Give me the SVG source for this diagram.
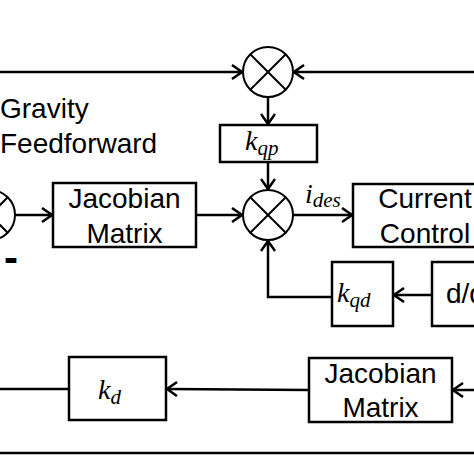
<svg xmlns="http://www.w3.org/2000/svg" width="474" height="474" viewBox="0 0 474 474">
<style>
.box{fill:#fff;stroke:#000;stroke-width:2.5}
.sum{fill:#fff;stroke:#000;stroke-width:2}
.x{stroke:#000;stroke-width:2}
.w{stroke:#000;stroke-width:2.5;fill:none}
.t{font-family:"Liberation Sans",Arial,sans-serif;font-size:28px;fill:#000}
.m{font-family:"Liberation Serif","Times New Roman",serif;font-style:italic;font-size:28px;fill:#000}
.s{font-size:21px}
</style>
<defs>
<marker id="ah" markerUnits="userSpaceOnUse" markerWidth="14" markerHeight="16" viewBox="0 0 14 16" refX="12" refY="8" orient="auto">
<path d="M2,1 L12,8 L2,15" fill="none" stroke="#000" stroke-width="2.5"/>
</marker>
</defs>
<rect width="474" height="474" fill="#fff"/>
<g id="connectors">
<line class="w" x1="0" y1="72" x2="242" y2="72" marker-end="url(#ah)"/>
<line class="w" x1="474" y1="72" x2="294" y2="72" marker-end="url(#ah)"/>
<line class="w" x1="268" y1="97" x2="268" y2="124" marker-end="url(#ah)"/>
<line class="w" x1="268" y1="162" x2="268" y2="189" marker-end="url(#ah)"/>
<line class="w" x1="15" y1="215" x2="52" y2="215" marker-end="url(#ah)"/>
<line class="w" x1="196" y1="215" x2="242" y2="215" marker-end="url(#ah)"/>
<line class="w" x1="293" y1="215" x2="352" y2="215" marker-end="url(#ah)"/>
<line class="w" x1="432" y1="295" x2="394" y2="295" marker-end="url(#ah)"/>
<polyline class="w" points="332,297 268,297 268,241" marker-end="url(#ah)"/>
<line class="w" x1="474" y1="390" x2="453" y2="390" marker-end="url(#ah)"/>
<line class="w" x1="309" y1="390" x2="167" y2="389" marker-end="url(#ah)"/>
<line class="w" x1="69" y1="389" x2="0" y2="389"/>
<line class="w" x1="0" y1="453" x2="474" y2="453"/>
</g>
<g id="gravity-label">
<text class="t" x="0" y="118" font-size="27">Gravity</text>
<text class="t" x="0" y="153" font-size="27">Feedforward</text>
</g>
<g id="sum-left">
<circle class="sum" cx="-10" cy="215" r="25"/>
<line class="x" x1="-28" y1="197" x2="8" y2="233"/>
<line class="x" x1="-28" y1="233" x2="8" y2="197"/>
<text x="11" y="272" text-anchor="middle" font-family="Liberation Sans,Arial,sans-serif" font-weight="bold" font-size="42">-</text>
</g>
<g id="sum-top">
<circle class="sum" cx="268" cy="72" r="25"/>
<line class="x" x1="250" y1="54" x2="286" y2="90"/>
<line class="x" x1="250" y1="90" x2="286" y2="54"/>
</g>
<g id="kqp">
<rect class="box" x="220" y="125" width="97" height="37"/>
<text class="m" x="245" y="150">k<tspan class="s" dy="5">qp</tspan></text>
</g>
<g id="jacobian-top">
<rect class="box" x="53" y="183" width="143" height="64"/>
<text class="t" x="124.5" y="208" text-anchor="middle">Jacobian</text>
<text class="t" x="124.5" y="243" text-anchor="middle">Matrix</text>
</g>
<g id="sum-mid">
<circle class="sum" cx="268" cy="215" r="25"/>
<line class="x" x1="250" y1="197" x2="286" y2="233"/>
<line class="x" x1="250" y1="233" x2="286" y2="197"/>
</g>
<g id="ides-label">
<text class="m" x="305" y="203">i<tspan class="s" dy="4">des</tspan></text>
</g>
<g id="current-control">
<rect class="box" x="353" y="184" width="150" height="63"/>
<text class="t" x="425" y="208" text-anchor="middle">Current</text>
<text class="t" x="425" y="243" text-anchor="middle">Control</text>
</g>
<g id="kqd">
<rect class="box" x="332" y="262" width="61" height="64"/>
<text class="m" x="337" y="302">k<tspan class="s" dy="5">qd</tspan></text>
</g>
<g id="ddt">
<rect class="box" x="432" y="262" width="80" height="64"/>
<text class="t" x="446" y="303">d/dt</text>
</g>
<g id="kd">
<rect class="box" x="69" y="357" width="97" height="63"/>
<text class="m" x="98" y="399">k<tspan class="s" dy="5">d</tspan></text>
</g>
<g id="jacobian-bottom">
<rect class="box" x="309" y="358" width="143" height="64"/>
<text class="t" x="380.5" y="383" text-anchor="middle">Jacobian</text>
<text class="t" x="380.5" y="417" text-anchor="middle">Matrix</text>
</g>
</svg>
